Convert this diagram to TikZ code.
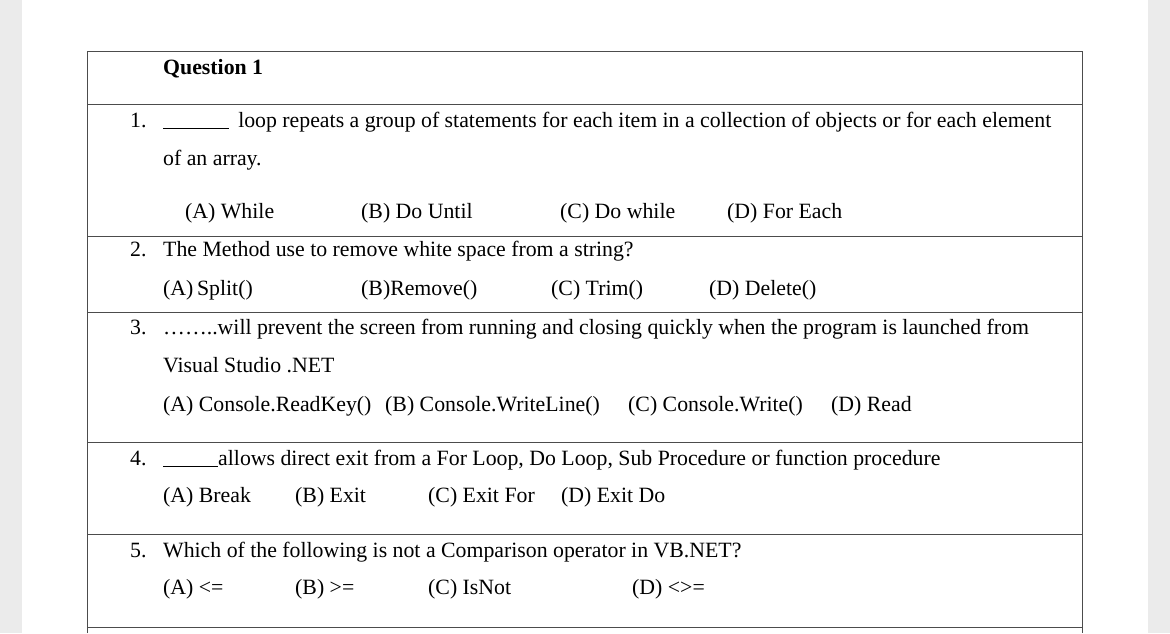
\documentclass[tikz,border=0pt]{standalone}
\usepackage{fontspec}
\setmainfont{Liberation Serif}
\usetikzlibrary{positioning}
\tikzset{
  txt/.style={anchor=base west,inner sep=0pt,font=\fontsize{21.8}{24}\selectfont},
  rule/.style={draw=black!70,line width=0.9pt}
}
\begin{document}
\begin{tikzpicture}[x=1pt,y=-1pt]
	\useasboundingbox (0,0) rectangle (1170,633);
	\fill[black!8] (0,0) rectangle (22,633);
	\fill[black!8] (1148,0) rectangle (1170,633);
	% table rules
	\draw[rule] (87,633) -- (87,51) -- (1082,51) -- (1082,633);
	\foreach \y in {104,236,312,442,534,627}
		\draw[rule] (87,\y) -- (1082,\y);
	% header
	\node[txt,font=\fontsize{21.8}{24}\selectfont\bfseries] (q1) at (163,74) {Question 1};
	% question 1
	\node[txt] (n1) at (130,127) {1.};
	\node[txt] (t1) at (163,127) {\rule[-2pt]{66pt}{0.6pt}\ \,loop repeats a group of statements for each item in a collection of objects or for each element};
	\node[txt] (t1b) at (163,165) {of an array.};
	\node[txt] (a1) at (185,218) {(A) While};
	\node[txt] (b1) at (361,218) {(B) Do Until};
	\node[txt] (c1) at (560,218) {(C) Do while};
	\node[txt] (d1) at (727,218) {(D) For Each};
	% question 2
	\node[txt] (n2) at (130,256) {2.};
	\node[txt] (t2) at (163,256) {The Method use to remove white space from a string?};
	\node[txt] (a2) at (163,295) {(A)\,Split()};
	\node[txt] (b2) at (361,295) {(B)Remove()};
	\node[txt] (c2) at (551,295) {(C) Trim()};
	\node[txt] (d2) at (709,295) {(D) Delete()};
	% question 3
	\node[txt] (n3) at (130,334) {3.};
	\node[txt] (t3) at (163,334) {……..will prevent the screen from running and closing quickly when the program is launched from};
	\node[txt] (t3b) at (163,372) {Visual Studio .NET};
	\node[txt] (a3) at (163,411) {(A) Console.ReadKey()};
	\node[txt] (b3) at (385,411) {(B) Console.WriteLine()};
	\node[txt] (c3) at (628,411) {(C) Console.Write()};
	\node[txt] (d3) at (831,411) {(D) Read};
	% question 4
	\node[txt] (n4) at (130,465) {4.};
	\node[txt] (t4) at (163,465) {\rule[-2pt]{55pt}{0.6pt}allows direct exit from a For Loop, Do Loop, Sub Procedure or function procedure};
	\node[txt] (a4) at (163,502) {(A) Break};
	\node[txt] (b4) at (295,502) {(B) Exit};
	\node[txt] (c4) at (428,502) {(C) Exit For};
	\node[txt] (d4) at (561,502) {(D) Exit Do};
	% question 5
	\node[txt] (n5) at (130,557) {5.};
	\node[txt] (t5) at (163,557) {Which of the following is not a Comparison operator in VB.NET?};
	\node[txt] (a5) at (163,594) {(A) <=};
	\node[txt] (b5) at (295,594) {(B) >=};
	\node[txt] (c5) at (428,594) {(C) IsNot};
	\node[txt] (d5) at (632,594) {(D) <>=};
\end{tikzpicture}
\end{document}
